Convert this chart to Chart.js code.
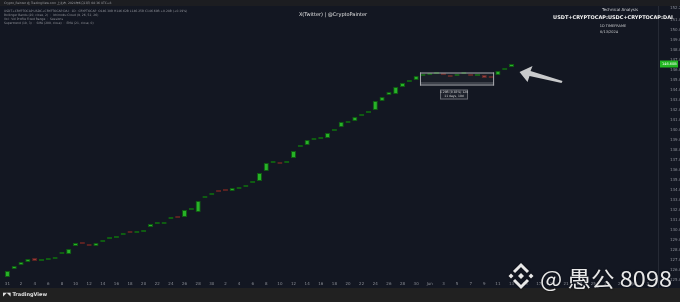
<!DOCTYPE html>
<html>
<head>
<meta charset="utf-8">
<script src="https://cdn.jsdelivr.net/npm/chart.js@4.4.1/dist/chart.umd.min.js"></script>
<style>
  html, body { margin: 0; padding: 0; background: #131722; }
  #wrap { width: 680px; height: 302px; }
</style>
</head>
<body>
<div id="wrap"><canvas id="capChart" width="680" height="302"></canvas></div>
<script>
// daily candles, 3/31/2024 .. 6/13/2024, then empty space up to 7/4
var days = ["31","Apr","2","3","4","5","6","7","8","9","10","11","12","13","14","15","16","17","18","19","20",
  "21","22","23","24","25","26","27","28","29","30","May","2","3","4","5","6","7","8","9","10","11","12","13",
  "14","15","16","17","18","19","20","21","22","23","24","25","26","27","28","29","30","31","Jun","2","3","4",
  "5","6","7","8","9","10","11","12","13","14","15","16","17","18","19","20","21","22","23","24","25","26","27",
  "28","29","30","Jul","2","3","4"];

// market cap, billions USD
var opens = [125.3,126.1,126.5,126.8,127.2,126.9,127.0,127.1,127.6,127.6,128.4,128.7,128.6,128.4,128.8,129.1,
  129.2,129.5,129.8,129.7,129.8,130.3,130.6,130.6,131.1,131.3,131.3,132.0,131.8,133.2,133.5,134.0,134.1,133.9,
  134.1,134.3,134.7,134.9,135.9,136.7,136.7,136.7,137.2,138.3,138.5,139.0,139.1,139.2,139.9,140.3,140.7,140.9,
  141.4,141.7,142.0,142.9,143.5,143.6,144.3,144.8,145.0,145.4,145.5,145.6,145.6,145.5,145.4,145.6,145.6,145.4,
  145.5,145.3,145.5,146.0,146.3];
var closes = [125.9,126.4,126.8,127.1,126.9,127.0,127.2,127.3,127.7,128.1,128.7,128.6,128.4,128.7,129.0,129.2,
  129.4,129.7,129.7,129.8,130.0,130.6,130.7,130.8,131.2,131.2,132.0,132.1,132.9,133.4,133.6,133.8,133.9,134.2,
  134.3,134.5,134.8,135.7,136.7,136.8,136.6,136.9,137.9,138.5,139.0,139.2,139.3,139.7,140.0,140.8,140.9,141.3,
  141.6,141.8,142.9,143.3,143.8,144.3,144.7,145.0,145.4,145.5,145.6,145.7,145.5,145.3,145.6,145.7,145.4,145.5,
  145.2,145.2,145.9,146.2,146.6];

// consolidation range marked on the chart
var rangeStart = 61, rangeEnd = 71;
var rangeTop = 145.75, rangeBottom = 144.45;

var upColor = '#27b327', upBorder = '#0f5c12';
var downColor = '#9b3a3a', downBorder = '#5a2222';

var candles = opens.map(function (o, i) { return [o, closes[i]]; });
var fills = opens.map(function (o, i) { return closes[i] >= o ? upColor : downColor; });
var borders = opens.map(function (o, i) { return closes[i] >= o ? upBorder : downBorder; });

var tvPlugin = {
  id: 'tvDecor',
  beforeDraw: function (chart) {
    var ctx = chart.ctx;
    ctx.save();
    ctx.fillStyle = '#131722';
    ctx.fillRect(0, 0, 680, 302);
    ctx.fillStyle = '#1c1d21';
    ctx.fillRect(0, 0, 680, 6);
    ctx.fillStyle = '#212121';
    ctx.fillRect(0, 288, 680, 14);
    ctx.strokeStyle = '#262a35';
    ctx.lineWidth = 1;
    ctx.beginPath();
    ctx.moveTo(658.5, 6); ctx.lineTo(658.5, 288);
    ctx.stroke();
    ctx.restore();
  },
  afterDatasetsDraw: function (chart) {
    var ctx = chart.ctx, xs = chart.scales.x, ys = chart.scales.y;
    ctx.save();

    // range box
    var bx0 = xs.getPixelForValue(rangeStart) - 3, bx1 = xs.getPixelForValue(rangeEnd) + 3;
    var by0 = ys.getPixelForValue(rangeTop), by1 = ys.getPixelForValue(rangeBottom);
    ctx.fillStyle = 'rgba(200,200,200,0.04)';
    ctx.fillRect(bx0, by0, bx1 - bx0, by1 - by0);
    ctx.strokeStyle = '#a9abb0';
    ctx.lineWidth = 1;
    ctx.beginPath();
    ctx.moveTo(bx0, by0 + 0.5); ctx.lineTo(bx1, by0 + 0.5);
    ctx.moveTo(bx0 + 0.5, by0); ctx.lineTo(bx0 + 0.5, by1);
    ctx.moveTo(bx1 - 0.5, by0); ctx.lineTo(bx1 - 0.5, by1);
    ctx.moveTo(bx0, by1 - 0.5); ctx.lineTo(bx1, by1 - 0.5);
    ctx.stroke();
    ctx.strokeStyle = 'rgba(169,171,176,0.5)';
    ctx.beginPath();
    ctx.moveTo(bx0, by1 - 2.5); ctx.lineTo(bx1, by1 - 2.5);
    ctx.stroke();

    // range label
    var lx = (bx0 + bx1) / 2 - 3, ly = by1 + 4;
    ctx.fillStyle = '#1e222c';
    ctx.fillRect(lx - 14, ly, 28, 10);
    ctx.strokeStyle = '#6a6d75';
    ctx.strokeRect(lx - 14 + 0.5, ly + 0.5, 27, 9);
    ctx.fillStyle = '#d8d8d8';
    ctx.font = '3px "DejaVu Sans"';
    ctx.textAlign = 'center';
    ctx.textBaseline = 'middle';
    ctx.fillText('1.20B (0.83%) 120', lx, ly + 3);
    ctx.fillText('11 days, 10d', lx, ly + 7);

    // arrow pointing at the last candle
    var last = opens.length - 1;
    var tx = xs.getPixelForValue(last) + 8, ty = ys.getPixelForValue(closes[last]) + 8;
    ctx.fillStyle = '#c9cacc';
    ctx.beginPath();
    ctx.moveTo(tx, ty);
    ctx.lineTo(tx + 13, ty - 6);
    ctx.lineTo(tx + 11, ty - 1);
    ctx.lineTo(tx + 43, ty + 9);
    ctx.lineTo(tx + 42, ty + 11);
    ctx.lineTo(tx + 10, ty + 4);
    ctx.lineTo(tx + 8, ty + 10);
    ctx.closePath();
    ctx.fill();

    // last price tag on the axis
    var py = ys.getPixelForValue(closes[last]);
    ctx.fillStyle = '#22b722';
    ctx.fillRect(660, py - 3.5, 18, 7);
    ctx.fillStyle = '#ffffff';
    ctx.font = '3.5px "DejaVu Sans"';
    ctx.textAlign = 'left';
    ctx.fillText(closes[last].toFixed(2) + 'B', 662, py);

    // date ticks along the bottom
    ctx.fillStyle = '#8a8d95';
    ctx.font = '4px "DejaVu Sans"';
    ctx.textAlign = 'center';
    for (var i = 0; i < days.length; i += 2) {
      ctx.fillText(days[i], xs.getPixelForValue(i), 284);
    }
    ctx.restore();
  },
  afterDraw: function (chart) {
    var ctx = chart.ctx;
    ctx.save();
    ctx.textBaseline = 'middle';

    // header
    ctx.fillStyle = '#9a9ca2';
    ctx.font = '3px "DejaVu Sans"';
    ctx.textAlign = 'left';
    ctx.fillText('Crypto_Painter \u5728 TradingView.com \u4e0a\u53d1\u5e03, 2024\u5e746\u670813\u65e5 08:36 UTC+8', 4, 3);
    ctx.fillStyle = '#8f9198';
    ctx.fillText('USDT+CRYPTOCAP:USDC+CRYPTOCAP:DAI \u00b7 1D \u00b7 CRYPTOCAP  O146.30B H146.62B L146.25B C146.60B +0.28B (+0.19%)', 4, 11);
    ctx.fillText('Bollinger Bands (20, close, 2)  \u00b7  Ichimoku Cloud (9, 26, 52, 26)', 4, 15);
    ctx.fillText('Vol \u00b7 Vol Profile Fixed Range  \u00b7  Sessions', 4, 19);
    ctx.fillText('Supertrend (10, 3)  \u00b7  SMA (200, close)  \u00b7  EMA (21, close, 0)', 4, 23);

    ctx.fillStyle = '#e4e4e4';
    ctx.font = '5px "DejaVu Sans"';
    ctx.textAlign = 'center';
    ctx.fillText('X(Twitter) | @CryptoPainter', 333, 15);

    ctx.fillStyle = '#cfd0d3';
    ctx.font = '4px "DejaVu Sans"';
    ctx.fillText('Technical Analysis', 620, 10);
    ctx.fillStyle = '#f0f0f0';
    ctx.font = 'bold 5px "DejaVu Sans"';
    ctx.fillText('USDT+CRYPTOCAP:USDC+CRYPTOCAP:DAI', 613, 18);
    ctx.fillStyle = '#cfd0d3';
    ctx.font = '3.5px "DejaVu Sans"';
    ctx.fillText('1D TIMEFRAME', 613, 26);
    ctx.fillText('6/13/2024', 609, 32);

    // footer
    ctx.fillStyle = '#e0e0e0';
    ctx.font = 'bold 5px "DejaVu Sans"';
    ctx.textAlign = 'left';
    ctx.fillText('\u25e4\u25e5 TradingView', 3, 295);

    // watermark
    var cx = 521, cy = 276;
    ctx.fillStyle = '#e8e8e8';
    ctx.strokeStyle = '#e8e8e8';
    ctx.shadowColor = 'rgba(0,0,0,0.6)';
    ctx.shadowBlur = 2;
    function diamond(x, y, r) {
      ctx.beginPath();
      ctx.moveTo(x, y - r); ctx.lineTo(x + r, y); ctx.lineTo(x, y + r); ctx.lineTo(x - r, y);
      ctx.closePath(); ctx.fill();
    }
    diamond(cx, cy, 3);
    diamond(cx - 10, cy, 2.5);
    diamond(cx + 10, cy, 2.5);
    ctx.lineWidth = 3;
    ctx.beginPath();
    ctx.moveTo(cx - 7, cy - 4); ctx.lineTo(cx, cy - 11); ctx.lineTo(cx + 7, cy - 4);
    ctx.moveTo(cx - 7, cy + 4); ctx.lineTo(cx, cy + 11); ctx.lineTo(cx + 7, cy + 4);
    ctx.stroke();

    ctx.font = '22px "Noto Sans CJK SC"';
    ctx.textBaseline = 'alphabetic';
    var wm = '@ \u611a\u516c 8098';
    var w = ctx.measureText(wm).width;
    ctx.translate(540, 287);
    ctx.scale(132 / w, 1);
    ctx.fillText(wm, 0, 0);
    ctx.restore();
  }
};

new Chart(document.getElementById('capChart').getContext('2d'), {
  type: 'bar',
  data: {
    labels: days,
    datasets: [{
      data: candles,
      backgroundColor: fills,
      borderColor: borders,
      borderWidth: 1,
      borderSkipped: false,
      minBarLength: 2,
      barPercentage: 0.75,
      categoryPercentage: 1
    }]
  },
  options: {
    responsive: false,
    animation: false,
    devicePixelRatio: 1,
    layout: { padding: { left: 4, top: 8, bottom: 14, right: 0 } },
    plugins: { legend: { display: false }, tooltip: { enabled: false } },
    scales: {
      x: {
        grid: { display: false },
        border: { display: false },
        afterFit: function (s) { s.height = 8; },
        ticks: { display: false }
      },
      y: {
        position: 'right',
        min: 125, max: 152.2,
        grid: { display: false },
        border: { display: false },
        afterFit: function (s) { s.width = 22; },
        ticks: {
          stepSize: 1, padding: 4,
          color: '#8a8d95', font: { size: 4, family: 'DejaVu Sans' },
          callback: function (v) { return v.toFixed(3) + 'B'; }
        }
      }
    }
  },
  plugins: [tvPlugin]
});
</script>
</body>
</html>
